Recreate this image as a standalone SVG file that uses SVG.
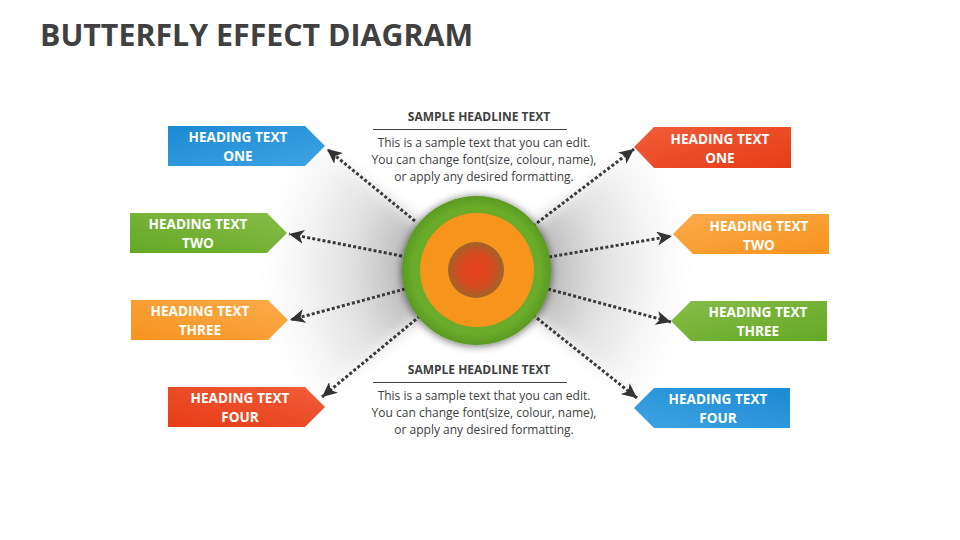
<svg xmlns="http://www.w3.org/2000/svg" width="960" height="540" viewBox="0 0 960 540">
<defs>
<style>
.title{font-family:"Open Sans","Liberation Sans",sans-serif;font-weight:700;font-size:31px;fill:#404040}
.hl{font-family:"Open Sans","Liberation Sans",sans-serif;font-weight:700;font-size:12px;fill:#404040;text-anchor:middle}
.body{font-family:"Open Sans","Liberation Sans",sans-serif;font-size:12px;fill:#404040;text-anchor:middle}
.bt{font-family:"Open Sans","Liberation Sans",sans-serif;font-weight:700;font-size:13.6px;fill:#ffffff;text-anchor:middle}
.con{fill:none;stroke:#3a3a3a;stroke-width:3;stroke-dasharray:3 2.2;marker-end:url(#ah)}
</style>
<marker id="ah" markerUnits="userSpaceOnUse" markerWidth="16" markerHeight="14" viewBox="0 0 16 14" refX="15" refY="7" orient="auto">
<path d="M0,0 L15,7 L0,14 L4,7 Z" fill="#333"/>
</marker>
<radialGradient id="wing" cx="476" cy="270" r="215" gradientUnits="userSpaceOnUse">
<stop offset="0.3" stop-color="#b4b4b4"/>
<stop offset="0.55" stop-color="#dddddd"/>
<stop offset="0.8" stop-color="#f4f4f4"/>
<stop offset="1" stop-color="#ffffff"/>
</radialGradient>
<filter id="blur" x="-20%" y="-20%" width="140%" height="140%"><feGaussianBlur stdDeviation="8"/></filter>
<filter id="sh" x="-30%" y="-30%" width="160%" height="160%"><feGaussianBlur in="SourceAlpha" stdDeviation="4"/><feOffset dx="0" dy="1"/><feComponentTransfer><feFuncA type="linear" slope="0.6"/></feComponentTransfer><feMerge><feMergeNode/><feMergeNode in="SourceGraphic"/></feMerge></filter>
<linearGradient id="blueL" x1="0" y1="0" x2="1" y2="1"><stop offset="0" stop-color="#1b8bd4"/><stop offset="1" stop-color="#3ea3e2"/></linearGradient>
<linearGradient id="blueR" x1="1" y1="0" x2="0" y2="1"><stop offset="0" stop-color="#1b8bd4"/><stop offset="1" stop-color="#3ea3e2"/></linearGradient>
<linearGradient id="greenL" x1="0" y1="1" x2="1" y2="0"><stop offset="0" stop-color="#64a824"/><stop offset="1" stop-color="#86bd48"/></linearGradient>
<linearGradient id="greenR" x1="1" y1="1" x2="0" y2="0"><stop offset="0" stop-color="#64a824"/><stop offset="1" stop-color="#86bd48"/></linearGradient>
<linearGradient id="orangeL" x1="0" y1="1" x2="1" y2="0"><stop offset="0" stop-color="#f7931e"/><stop offset="1" stop-color="#fbab4c"/></linearGradient>
<linearGradient id="orangeR" x1="1" y1="1" x2="0" y2="0"><stop offset="0" stop-color="#f7931e"/><stop offset="1" stop-color="#fbab4c"/></linearGradient>
<linearGradient id="redL" x1="0" y1="1" x2="1" y2="0"><stop offset="0" stop-color="#e63c16"/><stop offset="1" stop-color="#f05d38"/></linearGradient>
<linearGradient id="redR" x1="1" y1="1" x2="0" y2="0"><stop offset="0" stop-color="#e63c16"/><stop offset="1" stop-color="#f05d38"/></linearGradient>
<radialGradient id="core" cx="0.5" cy="0.5" r="0.5"><stop offset="0" stop-color="#e8401c"/><stop offset="0.6" stop-color="#d4491f"/><stop offset="1" stop-color="#a0642a"/></radialGradient>
<radialGradient id="green" cx="0.5" cy="0.5" r="0.5"><stop offset="0.85" stop-color="#6aac2a"/><stop offset="1" stop-color="#5a9a22"/></radialGradient>
</defs>
<rect width="960" height="540" fill="#ffffff"/>
<text class="title" x="40" y="46" textLength="433" lengthAdjust="spacingAndGlyphs">BUTTERFLY EFFECT DIAGRAM</text>

<g id="wings" filter="url(#blur)">
<path d="M476,270 L313,138 A210,210 0 0 0 314,403 Z" fill="url(#wing)"/>
<path d="M476,270 L643,142 A210,210 0 0 1 640,400 Z" fill="url(#wing)"/>
</g>

<g id="connectors">
<line class="con" x1="415" y1="221" x2="327" y2="149"/>
<line class="con" x1="402" y1="256" x2="289" y2="234"/>
<line class="con" x1="405" y1="289" x2="290" y2="320"/>
<line class="con" x1="420" y1="316" x2="322" y2="397"/>
<line class="con" x1="533" y1="226" x2="634" y2="149"/>
<line class="con" x1="549" y1="257" x2="672" y2="236"/>
<line class="con" x1="548" y1="289" x2="671" y2="322"/>
<line class="con" x1="533" y1="315" x2="637" y2="398"/>
</g>

<g id="center" filter="url(#sh)">
<circle cx="476.5" cy="270.5" r="74.5" fill="url(#green)"/>
<circle cx="477" cy="270" r="57" fill="#f7941d"/>
<circle cx="476" cy="270" r="28" fill="url(#core)"/>
</g>

<g id="text-top">
<text class="hl" x="479" y="121">SAMPLE HEADLINE TEXT</text>
<line x1="373" y1="129.5" x2="567" y2="129.5" stroke="#404040" stroke-width="1"/>
<text class="body" x="484" y="147">This is a sample text that you can edit.</text>
<text class="body" x="484" y="164">You can change font(size, colour, name),</text>
<text class="body" x="484" y="181">or apply any desired formatting.</text>
</g>
<g id="text-bottom">
<text class="hl" x="479" y="374">SAMPLE HEADLINE TEXT</text>
<line x1="373" y1="382.5" x2="567" y2="382.5" stroke="#404040" stroke-width="1"/>
<text class="body" x="484" y="400">This is a sample text that you can edit.</text>
<text class="body" x="484" y="417">You can change font(size, colour, name),</text>
<text class="body" x="484" y="434">or apply any desired formatting.</text>
</g>

<g id="left-one">
<path d="M168,126 L305,126 L325,146 L305,166 L168,166 Z" fill="url(#blueL)"/>
<text class="bt" x="238" y="142">HEADING TEXT</text>
<text class="bt" x="238" y="161">ONE</text>
</g>
<g id="left-two">
<path d="M130,213 L267,213 L287,233 L267,253 L130,253 Z" fill="url(#greenL)"/>
<text class="bt" x="198" y="229">HEADING TEXT</text>
<text class="bt" x="198" y="248">TWO</text>
</g>
<g id="left-three">
<path d="M131,300 L268,300 L288,320 L268,340 L131,340 Z" fill="url(#orangeL)"/>
<text class="bt" x="200" y="316">HEADING TEXT</text>
<text class="bt" x="200" y="335">THREE</text>
</g>
<g id="left-four">
<path d="M168,387 L305,387 L325,407 L305,427 L168,427 Z" fill="url(#redL)"/>
<text class="bt" x="240" y="403">HEADING TEXT</text>
<text class="bt" x="240" y="422">FOUR</text>
</g>

<g id="right-one">
<path d="M791,127 L654,127 L634,147 L654,168 L791,168 Z" fill="url(#redR)"/>
<text class="bt" x="720" y="144">HEADING TEXT</text>
<text class="bt" x="720" y="163">ONE</text>
</g>
<g id="right-two">
<path d="M829,214 L693,214 L673,234 L693,254 L829,254 Z" fill="url(#orangeR)"/>
<text class="bt" x="759" y="231">HEADING TEXT</text>
<text class="bt" x="759" y="250">TWO</text>
</g>
<g id="right-three">
<path d="M827,301 L691,301 L671,321 L691,341 L827,341 Z" fill="url(#greenR)"/>
<text class="bt" x="758" y="317">HEADING TEXT</text>
<text class="bt" x="758" y="336">THREE</text>
</g>
<g id="right-four">
<path d="M790,388 L654,388 L634,408 L654,428 L790,428 Z" fill="url(#blueR)"/>
<text class="bt" x="718" y="404">HEADING TEXT</text>
<text class="bt" x="718" y="423">FOUR</text>
</g>
</svg>
